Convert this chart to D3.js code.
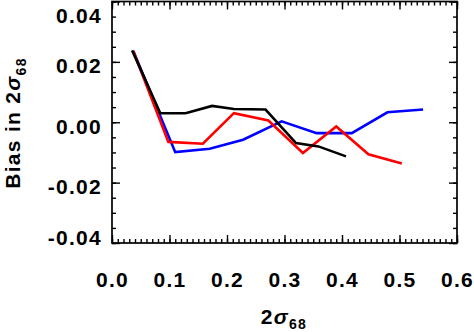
<!DOCTYPE html>
<html>
<head>
<meta charset="utf-8">
<script src="https://cdn.jsdelivr.net/npm/d3@7"></script>
<style>
  html, body { margin: 0; padding: 0; background: #fff; }
  svg { display: block; }
  .title { font-family: "Liberation Sans", Arial, Helvetica, sans-serif; font-weight: bold; fill: #000; }
</style>
</head>
<body>
<svg id="chart" width="474" height="332"></svg>
<script>
// Bias in 2σ68 against 2σ68, three binned curves
const blackX = [0.035, 0.084, 0.128, 0.174, 0.212, 0.267, 0.320, 0.359, 0.407];
const blackY = [0.0238, 0.0030, 0.0030, 0.0054, 0.0044, 0.0042, -0.0069, -0.0080, -0.0113];

const redX = [0.037, 0.098, 0.158, 0.212, 0.272, 0.332, 0.390, 0.446, 0.504];
const redY = [0.0236, -0.0065, -0.0071, 0.0030, 0.0006, -0.0102, -0.0014, -0.0106, -0.0137];

const blueX = [0.037, 0.110, 0.170, 0.228, 0.295, 0.356, 0.417, 0.479, 0.541];
const blueY = [0.0236, -0.0099, -0.0088, -0.0058, 0.0003, -0.0036, -0.0036, 0.0033, 0.0042];

const xTicks = [0.0, 0.1, 0.2, 0.3, 0.4, 0.5, 0.6];
const yTicks = [-0.04, -0.02, 0.00, 0.02, 0.04];
const xTickLabels = ["0.0", "0.1", "0.2", "0.3", "0.4", "0.5", "0.6"];
const yTickLabels = ["-0.04", "-0.02", "0.00", "0.02", "0.04"];

const svg = d3.select("#chart");
const plotLeft = 112, plotRight = 457, plotTop = 1.5, plotBottom = 243;

const x = d3.scaleLinear().domain([0, 0.6]).range([plotLeft, plotRight]);
const y = d3.scaleLinear().domain([-0.04, 0.04]).range([plotBottom, plotTop]);

const fontSize = 21;
const spacing = "1.3px";

// minor ticks on all four sides
const xMinor = d3.range(0, 0.6001, 0.01);
const yMinor = d3.range(-0.04, 0.04001, 0.005);

function styleAxis(g) {
  g.select(".domain").remove();
  g.selectAll(".tick line").attr("stroke", "#000").attr("stroke-width", 1.4);
}

svg.append("g").attr("transform", `translate(0,${plotBottom})`)
  .call(d3.axisBottom(x).tickValues(xMinor).tickSize(-4).tickFormat(""))
  .call(styleAxis);
svg.append("g").attr("transform", `translate(0,${plotTop})`)
  .call(d3.axisTop(x).tickValues(xMinor).tickSize(-4).tickFormat(""))
  .call(styleAxis);
svg.append("g").attr("transform", `translate(${plotLeft},0)`)
  .call(d3.axisLeft(y).tickValues(yMinor).tickSize(-4).tickFormat(""))
  .call(styleAxis);
svg.append("g").attr("transform", `translate(${plotRight},0)`)
  .call(d3.axisRight(y).tickValues(yMinor).tickSize(-4).tickFormat(""))
  .call(styleAxis);

function styleLabels(sel) {
  sel.attr("fill", "#000")
    .style("font-family", '"Liberation Sans", Arial, sans-serif')
    .style("font-weight", "bold").style("font-size", fontSize + "px")
    .style("letter-spacing", spacing);
}

// major ticks and labels
const xAxis = svg.append("g").attr("transform", `translate(0,${plotBottom})`)
  .call(d3.axisBottom(x).tickValues(xTicks).tickSize(-8).tickPadding(29)
    .tickFormat((d, i) => xTickLabels[i]))
  .call(styleAxis);
xAxis.selectAll("text").call(styleLabels);

svg.append("g").attr("transform", `translate(0,${plotTop})`)
  .call(d3.axisTop(x).tickValues(xTicks).tickSize(-8).tickFormat(""))
  .call(styleAxis);

const yAxis = svg.append("g").attr("transform", `translate(${plotLeft},0)`)
  .call(d3.axisLeft(y).tickValues(yTicks).tickSize(-8).tickPadding(10)
    .tickFormat((d, i) => yTickLabels[i]))
  .call(styleAxis);
yAxis.selectAll("text").call(styleLabels).attr("dy", "0.52em");
// keep the end labels inside the frame
yAxis.selectAll(".tick").filter(d => d === 0.04).select("text").attr("dy", "1.0em");
yAxis.selectAll(".tick").filter(d => d === -0.04).select("text").attr("dy", "0.08em");

svg.append("g").attr("transform", `translate(${plotRight},0)`)
  .call(d3.axisRight(y).tickValues(yTicks).tickSize(-8).tickFormat(""))
  .call(styleAxis);

// frame
svg.append("rect")
  .attr("x", plotLeft).attr("y", plotTop)
  .attr("width", plotRight - plotLeft).attr("height", plotBottom - plotTop)
  .attr("fill", "none").attr("stroke", "#000").attr("stroke-width", 1.7);

// curves
const line = d3.line().x(d => x(d[0])).y(d => y(d[1]));
const series = [
  { xs: blueX, ys: blueY, color: "#0000ff" },
  { xs: redX, ys: redY, color: "#ff0000" },
  { xs: blackX, ys: blackY, color: "#000000" }
];
series.forEach(s => {
  svg.append("path")
    .datum(s.xs.map((v, i) => [v, s.ys[i]]))
    .attr("d", line)
    .attr("fill", "none")
    .attr("stroke", s.color)
    .attr("stroke-width", 2.6)
    .attr("stroke-linejoin", "miter");
});

// axis titles
const xt = svg.append("text").attr("class", "title")
  .attr("x", 284).attr("y", 324)
  .attr("text-anchor", "middle")
  .style("font-size", fontSize + "px").style("letter-spacing", spacing);
xt.append("tspan").text("2");
xt.append("tspan").style("font-style", "italic").text("σ");
xt.append("tspan").attr("dy", 5).style("font-size", "14px").text("68");

const yt = svg.append("text").attr("class", "title")
  .attr("transform", "translate(20,123) rotate(-90)")
  .attr("text-anchor", "middle")
  .style("font-size", fontSize + "px").style("letter-spacing", spacing);
yt.append("tspan").text("Bias in 2");
yt.append("tspan").style("font-style", "italic").text("σ");
yt.append("tspan").attr("dy", 6).style("font-size", "14px").text("68");
</script>
</body>
</html>
